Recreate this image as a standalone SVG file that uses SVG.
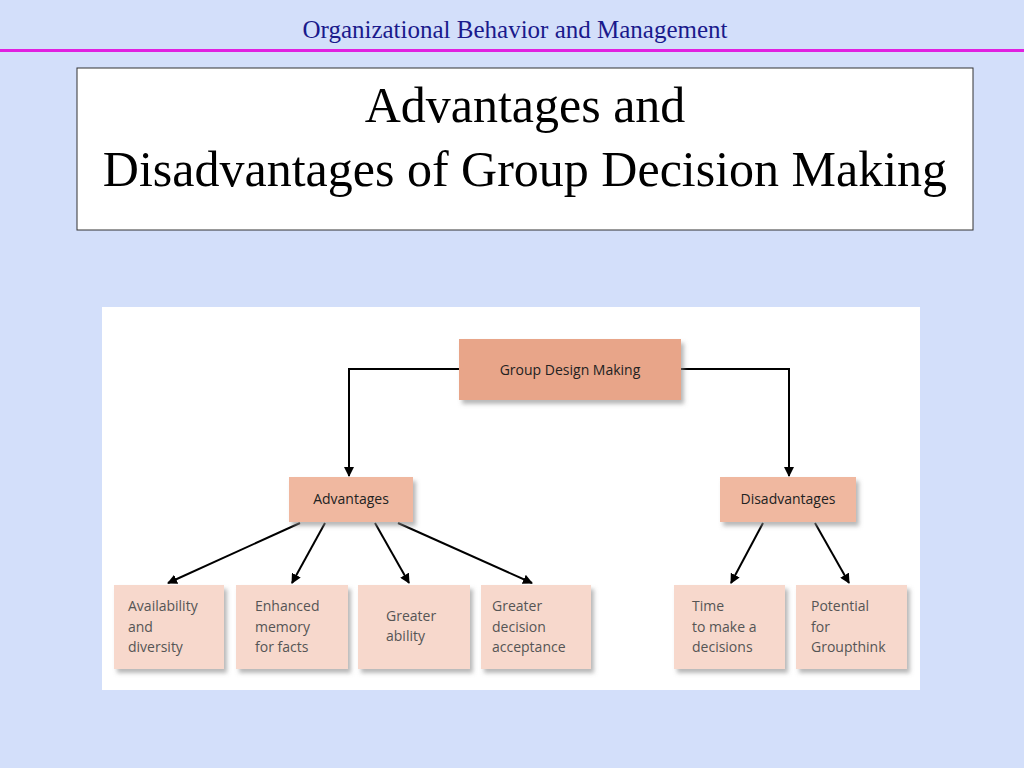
<svg xmlns="http://www.w3.org/2000/svg" width="1024" height="768" viewBox="0 0 1024 768">
<defs>
<marker id="ah" viewBox="0 0 10 10" refX="9" refY="5" markerWidth="5" markerHeight="5" orient="auto"><path d="M0,0 L10,5 L0,10 z" fill="#000"/></marker>
<filter id="sh" x="-10%" y="-10%" width="130%" height="140%"><feDropShadow dx="3" dy="4" stdDeviation="2" flood-color="#888" flood-opacity="0.6"/></filter>
</defs>
<style>
.n{font-family:"Open Sans","DejaVu Sans",sans-serif;font-size:14px;fill:#222}
.l{font-family:"Open Sans","DejaVu Sans",sans-serif;font-size:14px;fill:#555}
.c{stroke:#000;stroke-width:2;fill:none;marker-end:url(#ah)}
.leaf{fill:#f7d8cc;filter:url(#sh)}
.mid{fill:#f0b8a0;filter:url(#sh)}
</style>
<rect width="1024" height="768" fill="#d3dffa"/>
<text x="515" y="38" text-anchor="middle" font-family="Liberation Serif,serif" font-size="25" fill="#1a1a8c">Organizational Behavior and Management</text>
<rect x="0" y="49" width="1024" height="3" fill="#e020e0"/>
<rect x="77" y="68" width="896" height="162" fill="#fff" stroke="#333"/>
<text x="525" y="122" text-anchor="middle" font-family="Liberation Serif,serif" font-size="50" fill="#000">Advantages and</text>
<text x="525" y="186" text-anchor="middle" font-family="Liberation Serif,serif" font-size="50" fill="#000">Disadvantages of Group Decision Making</text>
<rect x="102" y="307" width="818" height="383" fill="#fff"/>
<g id="connectors">
<polyline class="c" points="459,369 349,369 349,476"/>
<polyline class="c" points="681,369 789,369 789,476"/>
<line class="c" x1="300" y1="523" x2="168" y2="583"/>
<line class="c" x1="325" y1="523" x2="292" y2="583"/>
<line class="c" x1="375" y1="523" x2="409" y2="583"/>
<line class="c" x1="398" y1="523" x2="532" y2="583"/>
<line class="c" x1="763" y1="523" x2="731" y2="583"/>
<line class="c" x1="815" y1="523" x2="849" y2="583"/>
</g>
<g id="group"><rect x="459" y="339" width="222" height="61" fill="#e8a589" filter="url(#sh)"/><text class="n" x="570" y="375" text-anchor="middle">Group Design Making</text></g>
<g id="adv"><rect class="mid" x="289" y="477" width="124" height="45"/><text class="n" x="351" y="504" text-anchor="middle">Advantages</text></g>
<g id="dis"><rect class="mid" x="720" y="477" width="136" height="45"/><text class="n" x="788" y="504" text-anchor="middle">Disadvantages</text></g>
<g id="l1"><rect class="leaf" x="114" y="585" width="110" height="84"/><text class="l" x="128" y="611">Availability<tspan x="128" dy="21">and</tspan><tspan x="128" dy="20">diversity</tspan></text></g>
<g id="l2"><rect class="leaf" x="236" y="585" width="112" height="84"/><text class="l" x="255" y="611">Enhanced<tspan x="255" dy="21">memory</tspan><tspan x="255" dy="20">for facts</tspan></text></g>
<g id="l3"><rect class="leaf" x="358" y="585" width="112" height="84"/><text class="l" x="386" y="621">Greater<tspan x="386" dy="20">ability</tspan></text></g>
<g id="l4"><rect class="leaf" x="481" y="585" width="110" height="84"/><text class="l" x="492" y="611">Greater<tspan x="492" dy="21">decision</tspan><tspan x="492" dy="20">acceptance</tspan></text></g>
<g id="l5"><rect class="leaf" x="674" y="585" width="111" height="84"/><text class="l" x="692" y="611">Time<tspan x="692" dy="21">to make a</tspan><tspan x="692" dy="20">decisions</tspan></text></g>
<g id="l6"><rect class="leaf" x="796" y="585" width="111" height="84"/><text class="l" x="811" y="611">Potential<tspan x="811" dy="21">for</tspan><tspan x="811" dy="20">Groupthink</tspan></text></g>
</svg>
